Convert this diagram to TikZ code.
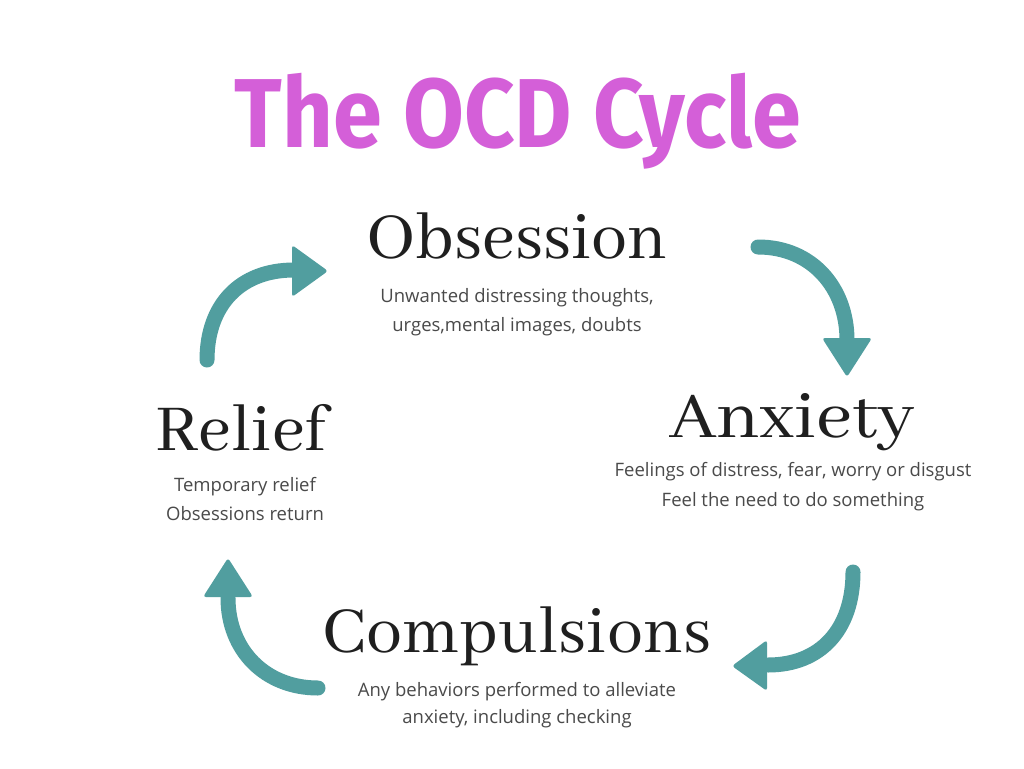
\documentclass[tikz,border=0pt]{standalone}
\usepackage{fontspec}
\setmainfont{Open Sans}
\newfontfamily\titlefont{Fira Sans}
\newfontfamily\headfont{Abhaya Libre}
\newfontfamily\subfont{Open Sans}
\definecolor{ocdteal}{HTML}{519E9F}
\definecolor{ocdpink}{HTML}{D45FD8}
\definecolor{subgray}{HTML}{4A4A4A}
\begin{document}
\begin{tikzpicture}[x=1pt,y=-1pt,
  titlestyle/.style={font=\titlefont\fontsize{98}{100}\selectfont\bfseries, text=ocdpink, inner sep=0pt},
  headstyle/.style={font=\headfont\fontsize{72}{76}\selectfont, text=black!88, inner sep=0pt},
  substyle/.style={font=\subfont\fontsize{18.5}{29}\selectfont, text=subgray, align=center, inner sep=0pt},
  shaft/.style={draw=ocdteal, line width=15pt, line cap=round},
  headtip/.style={fill=ocdteal, rounded corners=3pt}]
\useasboundingbox[fill=white] (0,0) rectangle (1024,768);
% title
\node[titlestyle, anchor=base] (title) at (518,147) {\scalebox{0.9}[1]{The OCD Cycle}};
% headings and descriptions (base = baseline of last line)
\node[headstyle, anchor=base] (obs) at (517,258) {Obsession};
\node[substyle, anchor=base] (obssub) at (517,331) {Unwanted distressing thoughts,\\urges,mental images, doubts};
\node[headstyle, anchor=base] (anx) at (792,437) {\scalebox{1.1}[1]{Anxiety}};
\node[substyle, anchor=base, font=\subfont\fontsize{18.5}{30}\selectfont] (anxsub) at (793,506) {Feelings of distress, fear, worry or disgust\\Feel the need to do something};
\node[headstyle, anchor=base] (rel) at (241,450) {Relief};
\node[substyle, anchor=base] (relsub) at (245,520) {Temporary relief\\Obsessions return};
\node[headstyle, anchor=base] (comp) at (517,652) {Compulsions};
\node[substyle, anchor=base, font=\subfont\fontsize{18.5}{27}\selectfont] (compsub) at (517,723) {Any behaviors performed to alleviate\\anxiety, including checking};
% arrow 1 (relief -> obsession)
\coordinate (a1s) at (207,360);
\coordinate (a1e) at (294,270);
\draw[shaft] (a1s) .. controls (207,305) and (240,270) .. (a1e);
\fill[headtip] (328,271) -- (292,245) -- (292,297) -- cycle;
% arrow 2 (obsession -> anxiety)
\coordinate (a2s) at (758,247);
\coordinate (a2e) at (847,340);
\draw[shaft] (a2s) .. controls (812,247) and (847,288) .. (a2e);
\fill[headtip] (847,377) -- (822,338) -- (872,338) -- cycle;
% arrow 3 (anxiety -> compulsions)
\coordinate (a3s) at (853,572);
\coordinate (a3e) at (768,665);
\draw[shaft] (a3s) .. controls (853,630) and (820,665) .. (a3e);
\fill[headtip] (732,666) -- (767,640) -- (767,691) -- cycle;
% arrow 4 (compulsions -> relief)
\coordinate (a4s) at (318,688);
\coordinate (a4e) at (228,598);
\draw[shaft] (a4s) .. controls (265,688) and (228,650) .. (a4e);
\fill[headtip] (228,558) -- (203,597) -- (253,597) -- cycle;
\end{tikzpicture}
\end{document}
